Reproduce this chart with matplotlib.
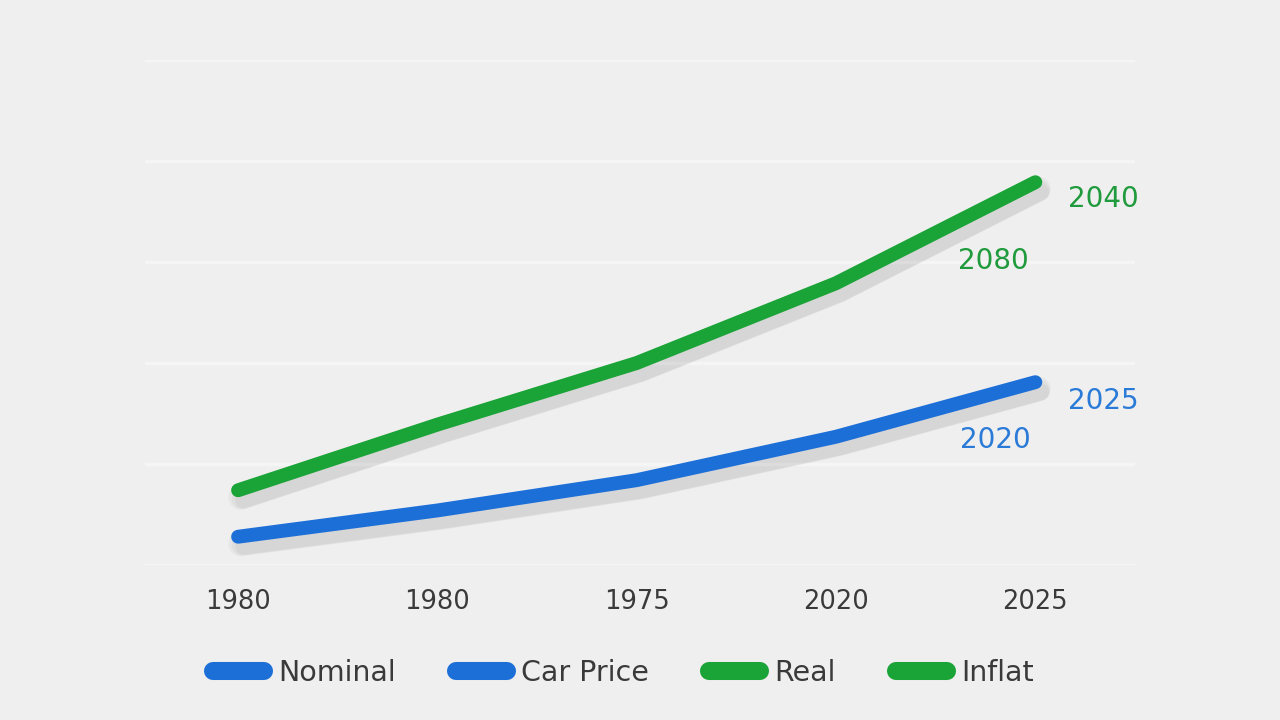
import matplotlib.pyplot as plt
import matplotlib.patheffects as pe
from matplotlib.lines import Line2D

# tick labels as printed on the chart
years = ['1980', '1980', '1975', '2020', '2025']
real = [7400, 13900, 20000, 27900, 37900]
nominal = [2800, 5400, 8400, 12700, 18100]

green = '#1aa336'
blue = '#1d6fd8'
bg = '#efefef'

fig = plt.figure(figsize=(12.8, 7.2), dpi=100, facecolor=bg)
ax = fig.add_axes([145 / 1280, 1 - 565 / 720, 990 / 1280, 505 / 720])
ax.set_facecolor(bg)

x = list(range(len(years)))
# soft drop shadow made of a few faint layers
shadow = [pe.SimpleLineShadow(offset=(o, -o - 3), shadow_color='#666666', alpha=0.06, linewidth=w)
          for o, w in [(2, 18), (3, 15), (4, 12)]] + [pe.Normal()]
ax.plot(x, real, color=green, lw=10, solid_capstyle='round', path_effects=shadow, zorder=3)
ax.plot(x, nominal, color=blue, lw=10, solid_capstyle='round', path_effects=shadow, zorder=3)

ax.set_xlim(-0.467, 4.5)
ax.set_ylim(0, 50000)
ax.set_yticks(range(0, 50001, 10000))
ax.yaxis.grid(True, color='#f5f5f5', lw=2.5)
ax.set_axisbelow(True)
ax.tick_params(axis='y', left=False, labelleft=False)
ax.set_xticks(x)
ax.set_xticklabels(years, fontsize=18.5, color='#3a3a3a')
ax.tick_params(axis='x', length=0, pad=17)
for s in ax.spines.values():
    s.set_visible(False)

# end labels
ax.text(4.34, real[-1] - 1700, '2040', color='#1f9a3c', fontsize=20, ha='center', va='center')
ax.text(3.79, real[-1] - 7800, '2080', color='#1f9a3c', fontsize=20, ha='center', va='center')
ax.text(4.34, nominal[-1] - 1900, '2025', color='#2a7ad8', fontsize=20, ha='center', va='center')
ax.text(3.80, nominal[-1] - 5700, '2020', color='#2a7ad8', fontsize=20, ha='center', va='center')

handles = [Line2D([], [], color=blue, lw=13, solid_capstyle='round'),
           Line2D([], [], color=blue, lw=13, solid_capstyle='round'),
           Line2D([], [], color=green, lw=13, solid_capstyle='round'),
           Line2D([], [], color=green, lw=13, solid_capstyle='round')]
labels = ['Nominal', 'Car Price', 'Real', 'Inflat']
leg = fig.legend(handles, labels, loc='center', bbox_to_anchor=(0.487, 1 - 673 / 720), ncol=4,
                 frameon=False, fontsize=20.5, handlelength=1.8, handletextpad=0.5, columnspacing=2.1)
for t in leg.get_texts():
    t.set_color('#3a3a3a')

fig.savefig('out.png', dpi=100, facecolor=bg)
